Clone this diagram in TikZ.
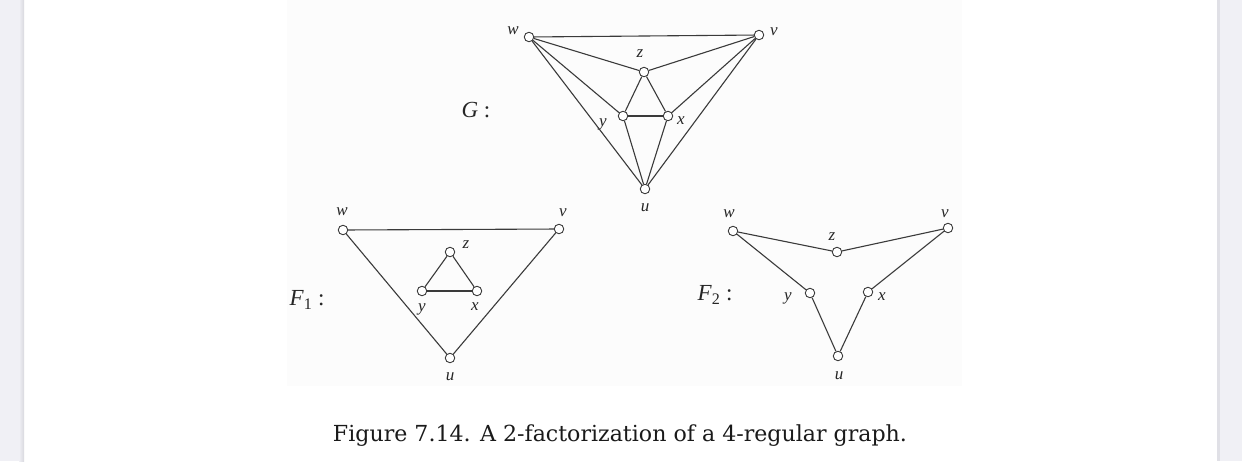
\documentclass[tikz,border=0pt]{standalone}
\usepackage{fontspec}
\usepackage{graphicx}
\setmainfont{DejaVu Serif}
\newfontfamily\timesf{Liberation Serif}
\definecolor{edgec}{HTML}{3A3A3A}
\definecolor{side}{HTML}{F0F0F5}
\definecolor{shade}{HTML}{D8D8DE}
\definecolor{rshade}{HTML}{E0E0E6}
\definecolor{scan}{HTML}{FCFCFC}
\definecolor{captc}{HTML}{1A1A1A}
\begin{document}
\begin{tikzpicture}[x=1pt,y=-1pt,
  vtx/.style={circle,draw=edgec,fill=white,line width=0.9pt,inner sep=0pt,minimum size=9.5pt},
  edge/.style={draw=edgec,line width=1.1pt},
  lab/.style={font=\timesf\itshape\fontsize{17}{17}\selectfont,inner sep=0pt,text=black!85},
  glab/.style={font=\timesf\fontsize{23}{23}\selectfont,inner sep=0pt,text=black!85},
  capt/.style={font=\fontsize{20}{24}\selectfont,inner sep=0pt,anchor=base,text=captc}]
\useasboundingbox (0,0) rectangle (1242,461);
% page background
\fill[white] (0,0) rectangle (1242,461);
\fill[scan] (287,0) rectangle (962,386);
\fill[side] (0,0) rectangle (24,461);
\shade[left color=side,right color=shade] (19,0) rectangle (24,461);
\fill[side] (1217,0) rectangle (1242,461);
\fill[rshade] (1217,0) rectangle (1220,461);

% ---------- G ----------
\node[glab] (Glab) at (476,110) {\textit{G} :};
\node[vtx] (Gw) at (529,37) {};
\node[vtx] (Gv) at (759,35) {};
\node[vtx] (Gz) at (644,72) {};
\node[vtx] (Gy) at (623,116) {};
\node[vtx] (Gx) at (668,116) {};
\node[vtx] (Gu) at (645,189) {};
\node[lab] (Gwl) at (513,31) {w};
\node[lab] (Gvl) at (774,32) {v};
\node[lab] (Gzl) at (640,54) {z};
\node[lab] (Gyl) at (603,124) {y};
\node[lab] (Gxl) at (681,121) {x};
\node[lab] (Gul) at (645,208) {u};
\draw[edge] (Gw) -- (Gv);
\draw[edge] (Gw) -- (Gz);
\draw[edge] (Gv) -- (Gz);
\draw[edge] (Gw) -- (Gy);
\draw[edge] (Gw) -- (Gu);
\draw[edge] (Gv) -- (Gx);
\draw[edge] (Gv) -- (Gu);
\draw[edge] (Gz) -- (Gy);
\draw[edge] (Gz) -- (Gx);
\draw[edge] (Gy) -- (Gx);
\draw[edge] (Gy) -- (Gu);
\draw[edge] (Gx) -- (Gu);

% ---------- F1 ----------
\node[glab] (Alab) at (307,300) {\textit{F}\textsubscript{1} :};
\node[vtx] (Aw) at (343,230) {};
\node[vtx] (Av) at (559,229) {};
\node[vtx] (Az) at (450,252) {};
\node[vtx] (Ay) at (422,291) {};
\node[vtx] (Ax) at (477,291) {};
\node[vtx] (Au) at (450,358) {};
\node[lab] (Awl) at (342,212) {w};
\node[lab] (Avl) at (563,213) {v};
\node[lab] (Azl) at (466,245) {z};
\node[lab] (Ayl) at (422,309) {y};
\node[lab] (Axl) at (475,307) {x};
\node[lab] (Aul) at (450,377) {u};
\draw[edge] (Aw) -- (Av);
\draw[edge] (Aw) -- (Au);
\draw[edge] (Av) -- (Au);
\draw[edge] (Az) -- (Ay);
\draw[edge] (Az) -- (Ax);
\draw[edge] (Ay) -- (Ax);

% ---------- F2 ----------
\node[glab] (Blab) at (715,295) {\textit{F}\textsubscript{2} :};
\node[vtx] (Bw) at (733,231) {};
\node[vtx] (Bv) at (948,228) {};
\node[vtx] (Bz) at (837,252) {};
\node[vtx] (By) at (810,293) {};
\node[vtx] (Bx) at (868,292) {};
\node[vtx] (Bu) at (838,356) {};
\node[lab] (Bwl) at (729,214) {w};
\node[lab] (Bvl) at (945,214) {v};
\node[lab] (Bzl) at (832,237) {z};
\node[lab] (Byl) at (788,298) {y};
\node[lab] (Bxl) at (882,297) {x};
\node[lab] (Bul) at (839,376) {u};
\draw[edge] (Bw) -- (Bz);
\draw[edge] (Bz) -- (Bv);
\draw[edge] (Bw) -- (By);
\draw[edge] (By) -- (Bu);
\draw[edge] (Bv) -- (Bx);
\draw[edge] (Bx) -- (Bu);

% ---------- caption ----------
\node[capt] (cap) at (620,441) {\resizebox{574pt}{!}{Figure 7.14. A 2-factorization of a 4-regular graph.}};
\end{tikzpicture}
\end{document}
